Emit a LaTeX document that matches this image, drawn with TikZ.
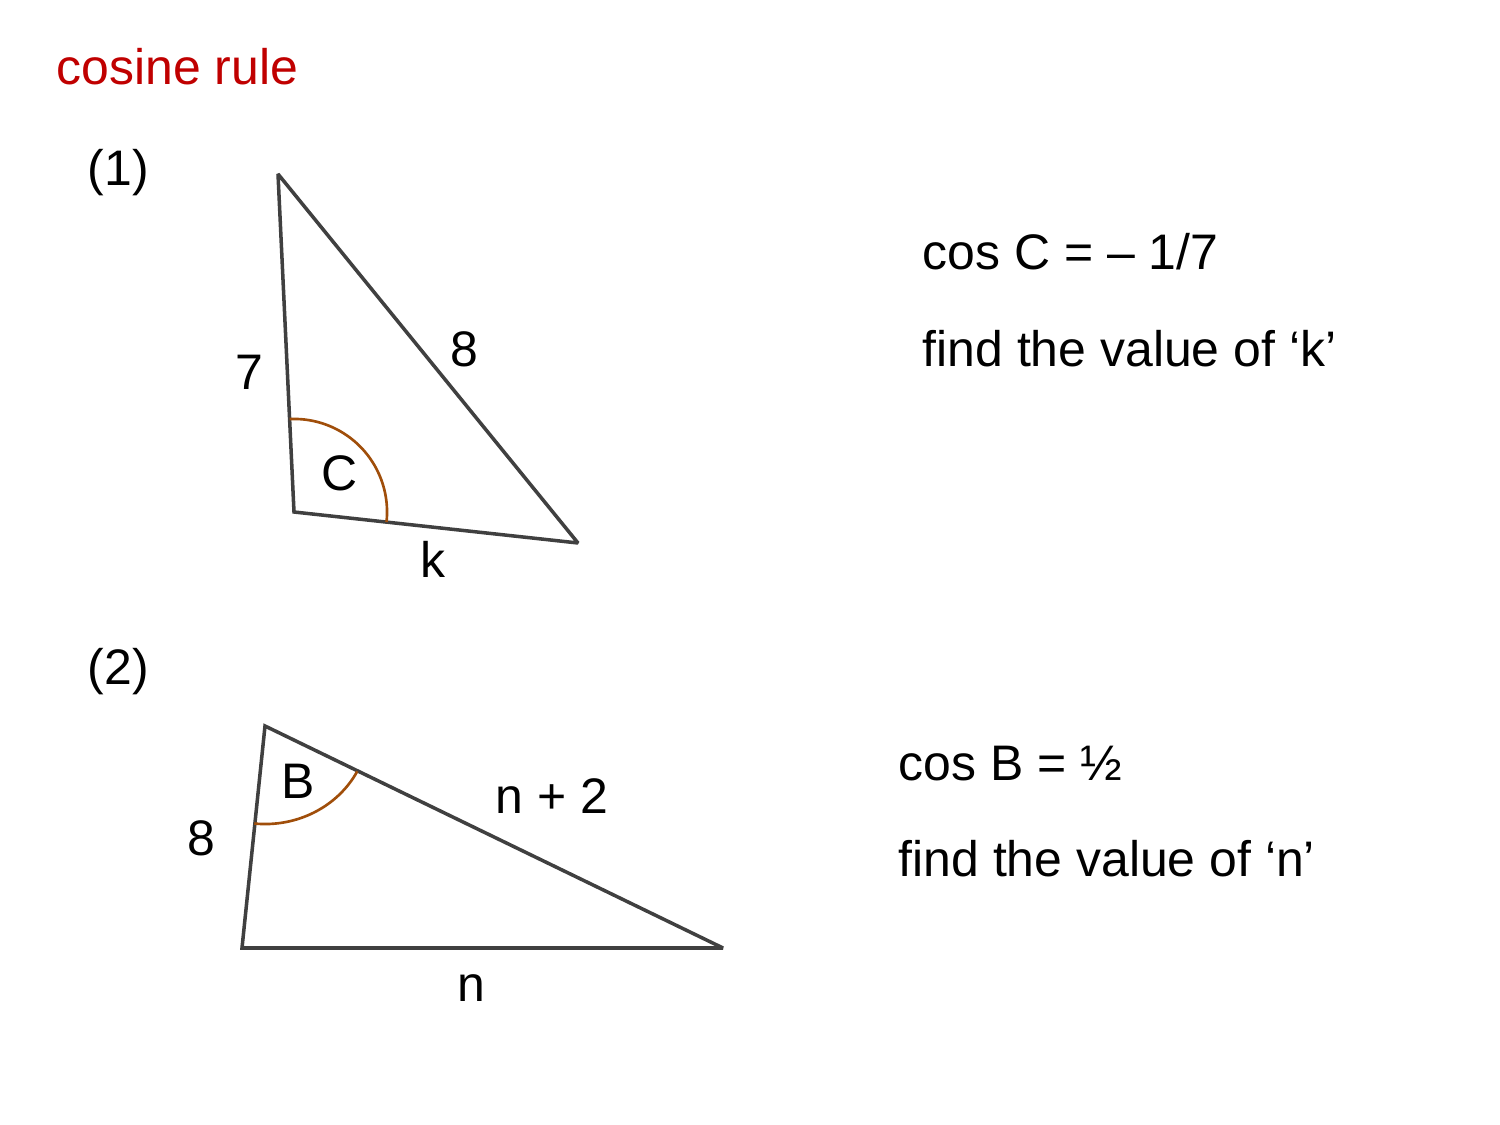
\documentclass[tikz,border=0pt]{standalone}
\usepackage{fontspec}
\setmainfont{Liberation Sans}
\definecolor{titlered}{RGB}{192,0,0}
\definecolor{edgegray}{RGB}{64,64,64}
\definecolor{anglebrown}{RGB}{160,78,10}
\begin{document}
\begin{tikzpicture}[x=0.01cm,y=-0.01cm,
  lbl/.style={inner sep=0pt,anchor=base,font=\fontsize{14.2}{17}\selectfont},
  txt/.style={inner sep=0pt,anchor=base west,font=\fontsize{14.2}{17}\selectfont},
  edge/.style={draw=edgegray,line width=1pt,line join=miter,miter limit=2},
  angarc/.style={draw=anglebrown,line width=0.75pt}]
\useasboundingbox (0,0) rectangle (1500,1125);
\fill[white] (0,0) rectangle (1500,1125);
% title
\node[txt,text=titlered] (title) at (56,85) {cosine rule};
% problem 1
\node[txt] (p1) at (87,186) {(1)};
\coordinate (a1) at (278,174);
\coordinate (c1) at (294,512);
\coordinate (b1) at (578,543);
\draw[edge] (a1) -- (c1) -- (b1) -- cycle;
\draw[angarc] ([shift={(92.7:0.93cm)}]c1) arc[start angle=92.7,end angle=-6.2,radius=0.93cm];
\node[lbl] (s7) at (249,390) {7};
\node[lbl] (s8) at (464,367) {8};
\node[lbl] (angC) at (340,491) {C};
\node[lbl] (sk) at (433,578) {k};
\node[txt] (q1a) at (922,270) {cos C = – 1/7};
\node[txt] (q1b) at (922,367) {find the value of ‘k’};
% problem 2
\node[txt] (p2) at (87,685) {(2)};
\coordinate (b2) at (265,726);
\coordinate (l2) at (242,948);
\coordinate (r2) at (723,948);
\draw[edge] (b2) -- (l2) -- (r2) -- cycle;
\draw[angarc] ([shift={(-95.9:1.04cm and 0.98cm)}]b2) arc[start angle=-95.9,end angle=-27.5,x radius=1.04cm,y radius=0.98cm];
\node[lbl] (angB) at (298,798) {B};
\node[lbl] (s8b) at (201,855) {8};
\node[lbl] (sn2) at (552,813) {n + 2};
\node[lbl] (sn) at (471,1001) {n};
\node[txt] (q2a) at (898,781) {cos B = ½};
\node[txt] (q2b) at (898,876) {find the value of ‘n’};
\end{tikzpicture}
\end{document}
